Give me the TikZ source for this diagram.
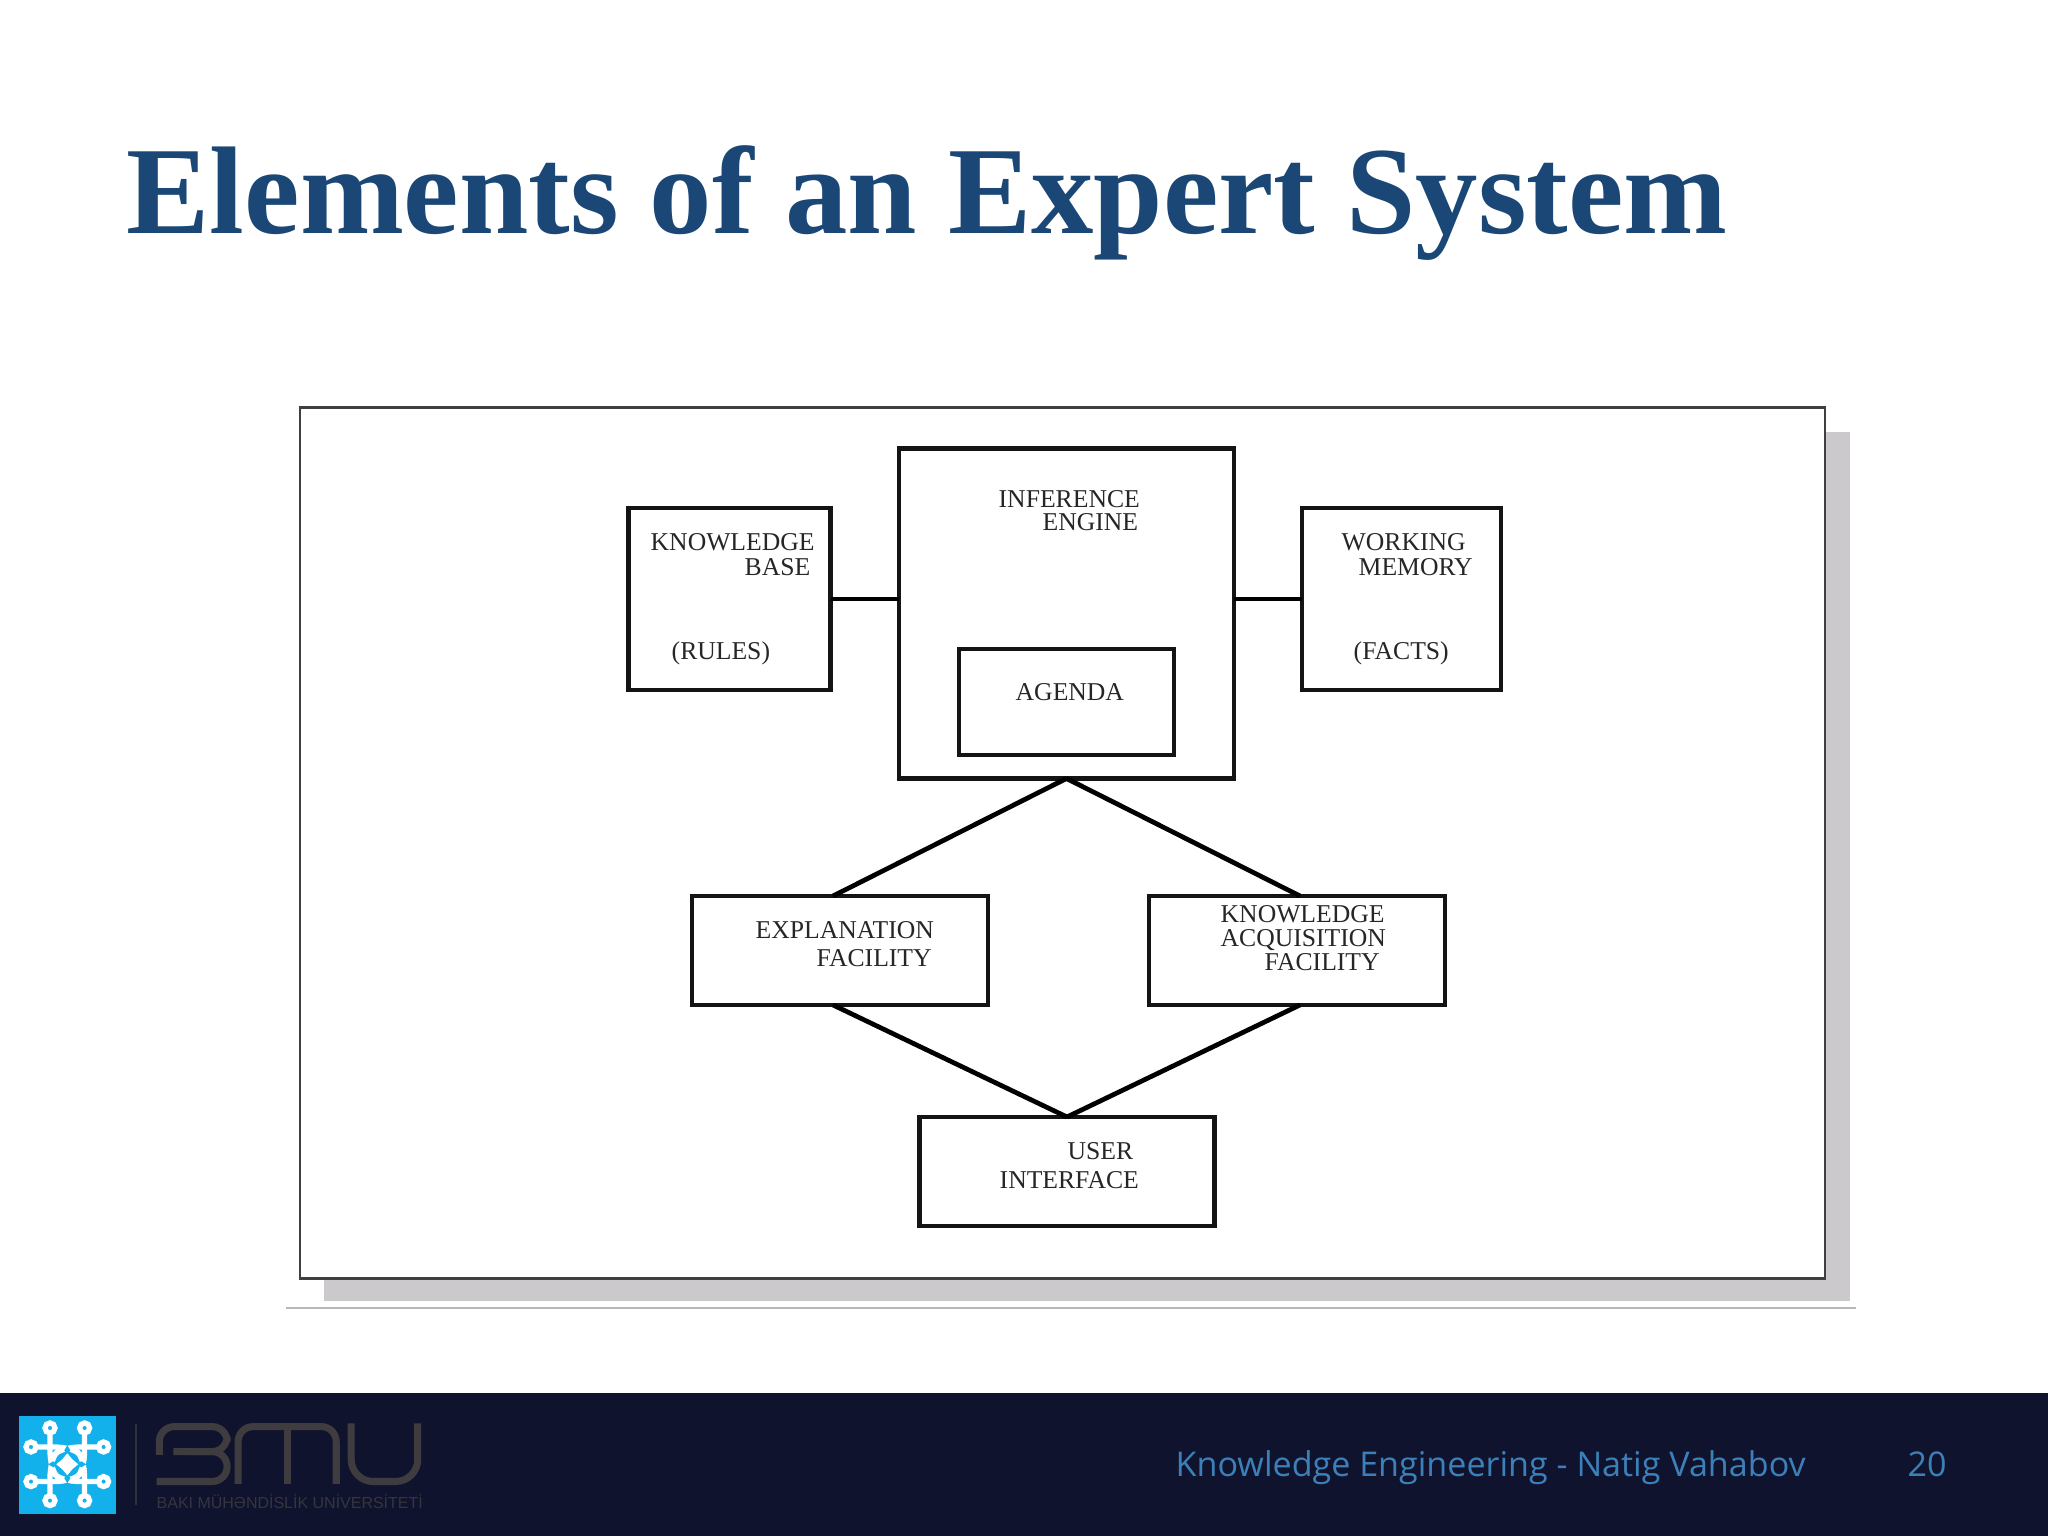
\documentclass[tikz,border=0pt]{standalone}
\usepackage{fontspec}
\setmainfont{Liberation Serif}
\newfontfamily\footfont{Open Sans}
\newfontfamily\logofont{Liberation Sans}
\definecolor{titleblue}{HTML}{1A4775}
\definecolor{footbar}{HTML}{10132E}
\definecolor{foottext}{HTML}{3C80B9}
\definecolor{logocyan}{HTML}{12B1EC}
\definecolor{logogrey}{HTML}{3F3C3F}
\definecolor{shadowgrey}{HTML}{CBC9CC}
\tikzset{
  unitbox/.style={draw=black!92, line width=1.25pt, inner sep=0pt, outer sep=0pt, fill=white},
  boxlabel/.style={anchor=base west, inner sep=0pt, text=black!85, font=\fontsize{7.3}{8}\selectfont},
  link/.style={draw=black, line width=1.35pt},
  logoline/.style={draw=white, line width=1.5pt}
}
\begin{document}
\begin{tikzpicture}
  \useasboundingbox (0,0) rectangle (20.48,15.36);
  \fill[white] (0,0) rectangle (20.48,15.36);

  % Title
  \node[anchor=base west, inner sep=0pt, text=titleblue, font=\fontsize{35.5}{38}\selectfont\bfseries] (title) at (1.26,13.02) {Elements of an Expert System};

  % Frame
  \fill[shadowgrey] (3.24,2.35) rectangle (18.50,11.04);
  \node[draw=black!75, line width=0.8pt, fill=white, inner sep=0pt, minimum width=15.25cm, minimum height=8.71cm] (frame) at (10.625,6.93) {};
  \draw[draw=black!28, line width=0.6pt] (2.86,2.28) -- (18.56,2.28);

  % Boxes
  \node[unitbox, minimum width=3.35cm, minimum height=3.30cm] (engine) at (10.665,9.225) {};
  \node[unitbox, minimum width=2.15cm, minimum height=1.06cm] (agenda) at (10.665,8.34) {};
  \node[unitbox, minimum width=2.02cm, minimum height=1.82cm] (kbase) at (7.295,9.37) {};
  \node[unitbox, minimum width=1.99cm, minimum height=1.82cm] (wmem) at (14.015,9.37) {};
  \node[unitbox, minimum width=2.96cm, minimum height=1.09cm] (expl) at (8.40,5.855) {};
  \node[unitbox, minimum width=2.96cm, minimum height=1.09cm] (kaf) at (12.97,5.855) {};
  \node[unitbox, minimum width=2.95cm, minimum height=1.09cm] (user) at (10.67,3.645) {};

  % Connectors
  \draw[link] (kbase.east) -- (kbase.east -| engine.west);
  \draw[link] (wmem.west) -- (wmem.west -| engine.east);
  \draw[link] (engine.south) -- ([xshift=-0.07cm]expl.north);
  \draw[link] (engine.south) -- ([xshift=0.03cm]kaf.north);
  \draw[link] ([xshift=-0.07cm]expl.south) -- (user.north);
  \draw[link] ([xshift=0.03cm]kaf.south) -- (user.north);

  % Labels
  \node[boxlabel] (tinf) at (9.98,10.28) {INFERENCE};
  \node[boxlabel] (teng) at (10.42,10.05) {ENGINE};
  \node[boxlabel] (tkno) at (6.50,9.85) {KNOWLEDGE};
  \node[boxlabel] (tbas) at (7.44,9.60) {BASE};
  \node[boxlabel] (trul) at (6.71,8.76) {(RULES)};
  \node[boxlabel] (twor) at (13.41,9.85) {WORKING};
  \node[boxlabel] (tmem) at (13.58,9.60) {MEMORY};
  \node[boxlabel] (tfac) at (13.53,8.76) {(FACTS)};
  \node[boxlabel] (tage) at (10.15,8.35) {AGENDA};
  \node[boxlabel] (texp) at (7.55,5.97) {EXPLANATION};
  \node[boxlabel] (tfa1) at (8.16,5.69) {FACILITY};
  \node[boxlabel] (tkn2) at (12.20,6.13) {KNOWLEDGE};
  \node[boxlabel] (tacq) at (12.20,5.89) {ACQUISITION};
  \node[boxlabel] (tfa2) at (12.64,5.65) {FACILITY};
  \node[boxlabel] (tuse) at (10.67,3.76) {USER};
  \node[boxlabel] (tint) at (9.99,3.47) {INTERFACE};

  % Footer
  \fill[footbar] (0,0) rectangle (20.48,1.43);
  \node[anchor=base west, inner sep=0pt, text=foottext, font=\footfont\fontsize{9.7}{11}\selectfont] (footname) at (11.75,0.59) {Knowledge Engineering - Natig Vahabov};
  \node[anchor=base west, inner sep=0pt, text=foottext, font=\footfont\fontsize{9.7}{11}\selectfont] (footpage) at (19.07,0.59) {20};

  % Logo mark
  \fill[logocyan] (0.19,0.22) rectangle (1.16,1.20);
  \begin{scope}[shift={(0.673,0.717)}]
    \foreach \r in {0,90,180,270} {
      \foreach \s in {1,-1} {
        \begin{scope}[rotate=\r, yscale=\s]
          \draw[logoline] (-0.32,0.173) -- (-0.14,0.173) .. controls (-0.04,0.173) and (0.14,0.15) .. (0.17,0.03);
          \draw[logoline, fill=logocyan] (-0.363,0.173) circle (0.05);
        \end{scope}
      }
    }
    \fill[logocyan] (0,0.19) -- (0.03,0.14) -- (0,0.09) -- (-0.03,0.14) -- cycle;
    \fill[logocyan] (0,-0.19) -- (0.03,-0.14) -- (0,-0.09) -- (-0.03,-0.14) -- cycle;
    \fill[logocyan] (0.19,0) -- (0.14,0.03) -- (0.09,0) -- (0.14,-0.03) -- cycle;
    \fill[logocyan] (-0.19,0) -- (-0.14,0.03) -- (-0.09,0) -- (-0.14,-0.03) -- cycle;
    \fill[white] (0,0.11) -- (0.05,0.05) -- (0.11,0) -- (0.05,-0.05) -- (0,-0.11) -- (-0.05,-0.05) -- (-0.11,0) -- (-0.05,0.05) -- cycle;
  \end{scope}
  \draw[draw=logogrey!70!footbar, line width=0.5pt] (1.36,0.31) -- (1.36,1.12);

  % Logo letters
  \begin{scope}[shift={(1.40,1.26)}, x=0.003333cm, y=-0.003333cm]
    \draw[draw=logogrey, line width=2pt, rounded corners=0.15cm]
      (58,135) -- (58,50) -- (262,50) -- (262,125) -- (100,125);
    \draw[draw=logogrey, line width=2pt, rounded corners=0.15cm]
      (150,125) -- (262,125) -- (262,215) -- (50,215);
    \draw[draw=logogrey, line width=2pt, rounded corners=0.15cm]
      (295,222) -- (295,50) -- (590,50) -- (590,222);
    \draw[draw=logogrey, line width=2pt] (443,50) -- (443,222);
    \draw[draw=logogrey, line width=2pt, rounded corners=0.22cm]
      (635,40) -- (635,215) -- (835,215) -- (835,40);
  \end{scope}
  \node[anchor=west, inner sep=0pt, text=logogrey!80!footbar, font=\logofont\fontsize{4.55}{5}\selectfont] (logotext) at (1.56,0.34) {BAKI MÜHƏNDİSLİK UNİVERSİTETİ};
\end{tikzpicture}
\end{document}
